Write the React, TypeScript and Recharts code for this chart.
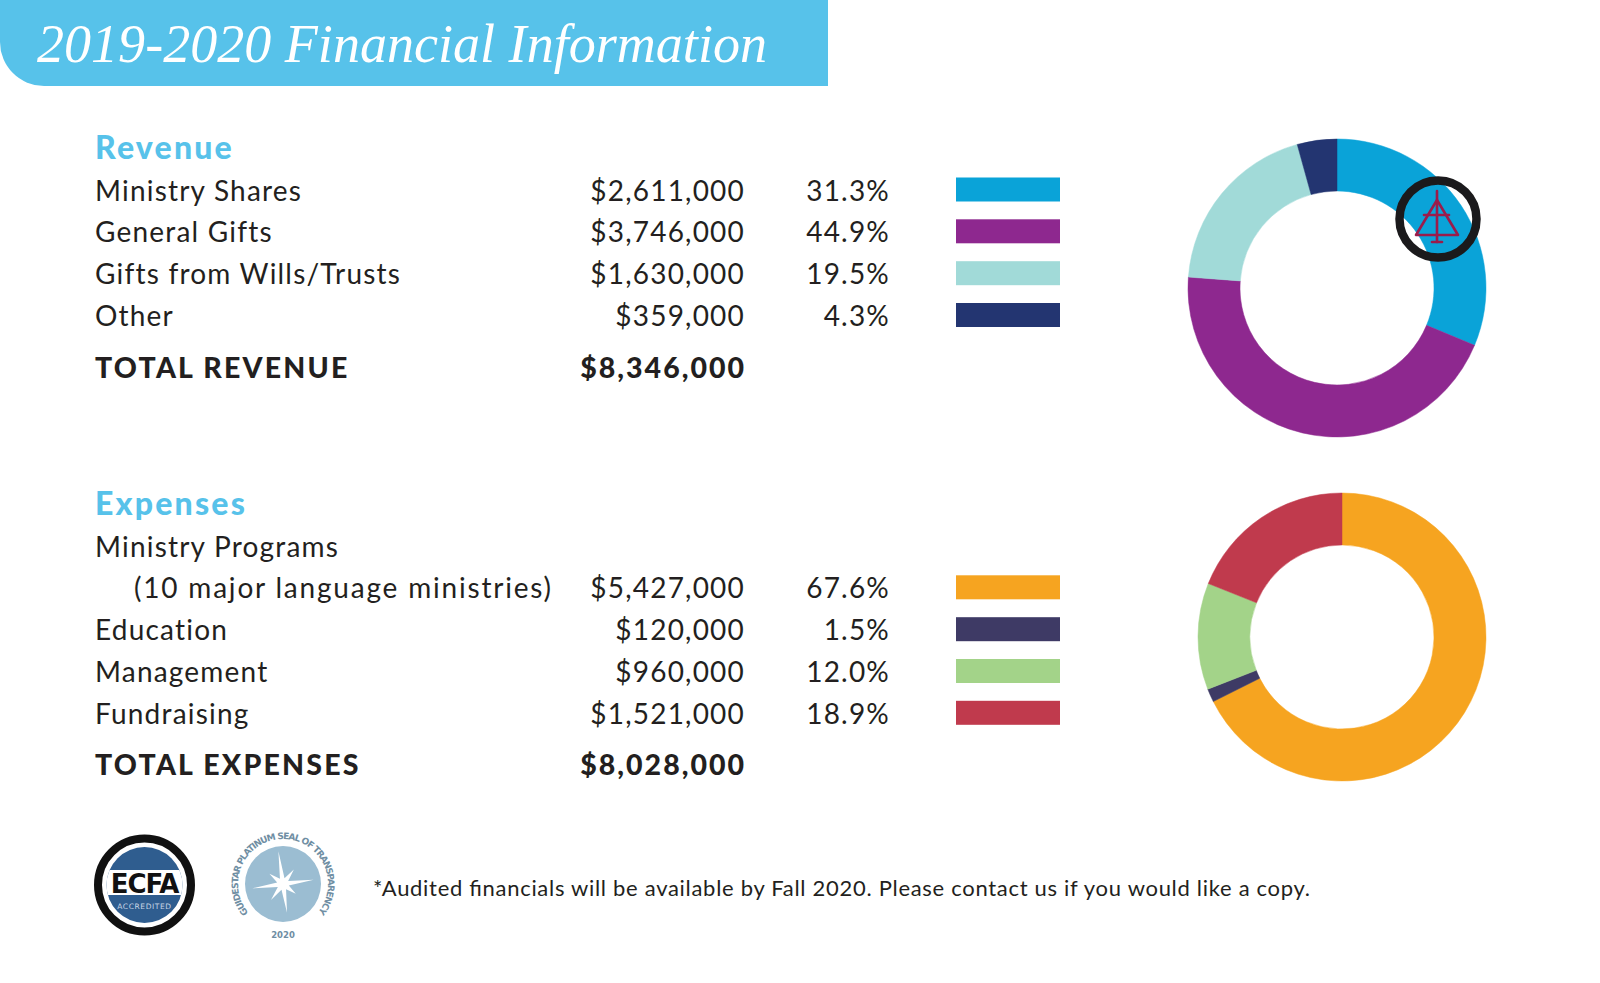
import React from 'react';
import { PieChart, Pie, Cell } from 'recharts';

// ---- Revenue ----
const revenueCategories = ['Ministry Shares', 'General Gifts', 'Gifts from Wills/Trusts', 'Other'];
const revenueValues = [2611000, 3746000, 1630000, 359000];
const revenueColors = ['#0aa3d8', '#8e288f', '#a1dad8', '#233571'];

// ---- Expenses ----
const expenseCategories = ['(10 major language ministries)', 'Education', 'Management', 'Fundraising'];
const expenseValues = [5427000, 120000, 960000, 1521000];
const expenseColors = ['#f6a420', '#3e3a65', '#a3d389', '#c03a4d'];

const TITLE = '2019-2020 Financial Information';
const FOOTNOTE = '*Audited financials will be available by Fall 2020. Please contact us if you would like a copy.';

const TEXT = '#231f20';
const ACCENT = '#57c2ea';
const FONT = 'Lato, "Noto Sans", sans-serif';

const sum = (a: number[]) => a.reduce((s, v) => s + v, 0);
const money = (v: number) => '$' + v.toLocaleString('en-US');
const pct = (v: number, total: number) => ((v / total) * 100).toFixed(1) + '%';

const revenueTotal = sum(revenueValues);
const expenseTotal = sum(expenseValues);

const revenueData = revenueCategories.map((name, i) => ({ name, value: revenueValues[i] }));
const expenseData = expenseCategories.map((name, i) => ({ name, value: expenseValues[i] }));

const LABEL_X = 95;
const AMOUNT_X = 745;
const PCT_X = 890;
const SWATCH_X = 956;
const SWATCH_W = 104;
const SWATCH_H = 24;
const ROW_SIZE = 28;
const ROW_SPACING = 1.2;

type RowsProps = {
  labels: string[];
  values: number[];
  colors: string[];
  total: number;
  baselines: number[];
  indentFirst?: boolean;
};

function Rows({ labels, values, colors, total, baselines, indentFirst }: RowsProps) {
  return (
    <g>
      {labels.map((label, i) => (
        <g key={label}>
          <text
            x={indentFirst && i === 0 ? 134 : LABEL_X}
            y={baselines[i]}
            fontFamily={FONT}
            fontSize={ROW_SIZE}
            letterSpacing={indentFirst && i === 0 ? 1.8 : ROW_SPACING}
            fill={TEXT}
          >
            {label}
          </text>
          <text x={AMOUNT_X} y={baselines[i]} textAnchor="end" fontFamily={FONT} fontSize={ROW_SIZE} letterSpacing={ROW_SPACING} fill={TEXT}>
            {money(values[i])}
          </text>
          <text x={PCT_X} y={baselines[i]} textAnchor="end" fontFamily={FONT} fontSize={ROW_SIZE} letterSpacing={ROW_SPACING} fill={TEXT}>
            {pct(values[i], total)}
          </text>
          <rect x={SWATCH_X} y={baselines[i] - 23} width={SWATCH_W} height={SWATCH_H} fill={colors[i]} />
        </g>
      ))}
    </g>
  );
}

function Heading({ y, children }: { y: number; children: string }) {
  return (
    <text x={95} y={y} fontFamily={FONT} fontWeight={900} fontSize={32} letterSpacing={2.2} fill={ACCENT}>
      {children}
    </text>
  );
}

function TotalRow({ y, label, value }: { y: number; label: string; value: number }) {
  return (
    <g>
      <text x={LABEL_X} y={y} fontFamily={FONT} fontWeight={900} fontSize={28.5} letterSpacing={2.2} fill={TEXT}>
        {label}
      </text>
      <text x={AMOUNT_X + 1} y={y} textAnchor="end" fontFamily={FONT} fontWeight={900} fontSize={28.5} letterSpacing={2} fill={TEXT}>
        {money(value)}
      </text>
    </g>
  );
}

function EcfaSeal({ cx, cy }: { cx: number; cy: number }) {
  return (
    <g>
      <circle cx={cx} cy={cy} r={46.5} fill="#fff" stroke="#111" strokeWidth={8} />
      <circle cx={cx} cy={cy} r={38} fill="#2f5d8f" />
      <clipPath id="ecfa-clip">
        <circle cx={cx} cy={cy} r={38} />
      </clipPath>
      <rect x={cx - 40} y={cy - 15} width={80} height={25} fill="#fff" clipPath="url(#ecfa-clip)" />
      <text x={cx} y={cy + 8} textAnchor="middle" fontFamily='"DejaVu Sans", sans-serif' fontWeight={700} fontSize={26} fill="#111" letterSpacing={-1}>
        ECFA
      </text>
      <text x={cx} y={cy + 24} textAnchor="middle" fontFamily='"DejaVu Sans", sans-serif' fontSize={7.5} fill="#c9d6e6" letterSpacing={0.6}>
        ACCREDITED
      </text>
    </g>
  );
}

function GuidestarSeal({ cx, cy }: { cx: number; cy: number }) {
  const r = 45;
  const a0 = (-130 * Math.PI) / 180;
  const a1 = (130 * Math.PI) / 180;
  const sx = cx + r * Math.sin(a0);
  const sy = cy - r * Math.cos(a0);
  const ex = cx + r * Math.sin(a1);
  const ey = cy - r * Math.cos(a1);
  const arc = `M ${sx} ${sy} A ${r} ${r} 0 1 1 ${ex} ${ey}`;
  const rays = [33, 18, 31, 16, 29, 20, 31, 17];
  const pts: string[] = [];
  rays.forEach((len, i) => {
    const a = ((i * 45 - 8) * Math.PI) / 180;
    const b = ((i * 45 + 14.5) * Math.PI) / 180;
    pts.push(`${cx + len * Math.sin(a)},${cy - len * Math.cos(a)}`);
    pts.push(`${cx + 6 * Math.sin(b)},${cy - 6 * Math.cos(b)}`);
  });
  return (
    <g>
      <circle cx={cx} cy={cy} r={38} fill="#9bbdd2" />
      <polygon points={pts.join(' ')} fill="#fff" />
      <path id="gs-arc" d={arc} fill="none" />
      <text fontFamily='"DejaVu Sans", sans-serif' fontWeight={700} fontSize={9} fill="#6f8ea3">
        <textPath href="#gs-arc" textLength={Math.round((258 * Math.PI * r) / 180)} lengthAdjust="spacing">
          GUIDESTAR PLATINUM SEAL OF TRANSPARENCY
        </textPath>
      </text>
      <text x={cx} y={cy + 54} textAnchor="middle" fontFamily='"DejaVu Sans", sans-serif' fontWeight={700} fontSize={8.5} fill="#6f8ea3">
        2020
      </text>
    </g>
  );
}

function Donut({
  data,
  colors,
  cx,
  cy,
  inner,
  outer,
}: {
  data: { name: string; value: number }[];
  colors: string[];
  cx: number;
  cy: number;
  inner: number;
  outer: number;
}) {
  const size = outer * 2 + 20;
  return (
    <div style={{ position: 'absolute', left: cx - size / 2, top: cy - size / 2, width: size, height: size }}>
      <PieChart width={size} height={size} margin={{ top: 0, right: 0, bottom: 0, left: 0 }}>
        <Pie
          data={data}
          dataKey="value"
          nameKey="name"
          cx={size / 2}
          cy={size / 2}
          innerRadius={inner}
          outerRadius={outer}
          startAngle={90}
          endAngle={-270}
          paddingAngle={0}
          isAnimationActive={false}
        >
          {data.map((d, i) => (
            <Cell key={d.name} fill={colors[i]} stroke={colors[i]} strokeWidth={0.5} />
          ))}
        </Pie>
      </PieChart>
    </div>
  );
}

export default function App() {
  return (
    <div style={{ position: 'absolute', left: 0, top: 0, width: 1600, height: 983, background: '#fff', overflow: 'hidden' }}>
      <svg width={1600} height={983} style={{ position: 'absolute', left: 0, top: 0 }}>
        {/* title band */}
        <path d="M0 0 H828 V86 H44 A44 44 0 0 1 0 42 Z" fill={ACCENT} />
        <text
          x={37}
          y={62}
          fontFamily='"Liberation Serif", serif'
          fontStyle="italic"
          fontSize={55}
          fill="#fff"
          textLength={730}
          lengthAdjust="spacingAndGlyphs"
        >
          {TITLE}
        </text>

        {/* revenue table */}
        <Heading y={158.5}>Revenue</Heading>
        <Rows
          labels={revenueCategories}
          values={revenueValues}
          colors={revenueColors}
          total={revenueTotal}
          baselines={[200.5, 242.3, 284.2, 326]}
        />
        <TotalRow y={378} label="TOTAL REVENUE" value={revenueTotal} />

        {/* expenses table */}
        <Heading y={514.5}>Expenses</Heading>
        <text x={LABEL_X} y={556.5} fontFamily={FONT} fontSize={ROW_SIZE} letterSpacing={ROW_SPACING} fill={TEXT}>
          Ministry Programs
        </text>
        <Rows
          labels={expenseCategories}
          values={expenseValues}
          colors={expenseColors}
          total={expenseTotal}
          baselines={[598.3, 640.2, 682, 723.8]}
          indentFirst
        />
        <TotalRow y={775} label="TOTAL EXPENSES" value={expenseTotal} />

        {/* seals and footnote */}
        <EcfaSeal cx={144.5} cy={885} />
        <GuidestarSeal cx={283} cy={884} />
        <text x={373} y={896} fontFamily={FONT} fontSize={22} fill={TEXT} textLength={937} lengthAdjust="spacing">
          {FOOTNOTE}
        </text>
      </svg>

      <Donut data={revenueData} colors={revenueColors} cx={1337} cy={287.5} inner={97} outer={149} />
      <Donut data={expenseData} colors={expenseColors} cx={1341.5} cy={637} inner={92} outer={144} />

      {/* emblem on the revenue ring */}
      <svg width={1600} height={983} style={{ position: 'absolute', left: 0, top: 0, pointerEvents: 'none' }}>
        <circle cx={1438} cy={219} r={38.5} fill="none" stroke="#1b1a1c" strokeWidth={8.5} />
        <g stroke="#9a1c4b" strokeWidth={2.6} fill="none" strokeLinecap="round">
          <line x1={1437} y1={191} x2={1437} y2={242} />
          <polygon points="1437,200 1416,235 1458,235" strokeLinejoin="round" />
          <line x1={1424} y1={215} x2={1449} y2={215} />
          <line x1={1432} y1={242} x2={1442} y2={242} />
        </g>
      </svg>
    </div>
  );
}
